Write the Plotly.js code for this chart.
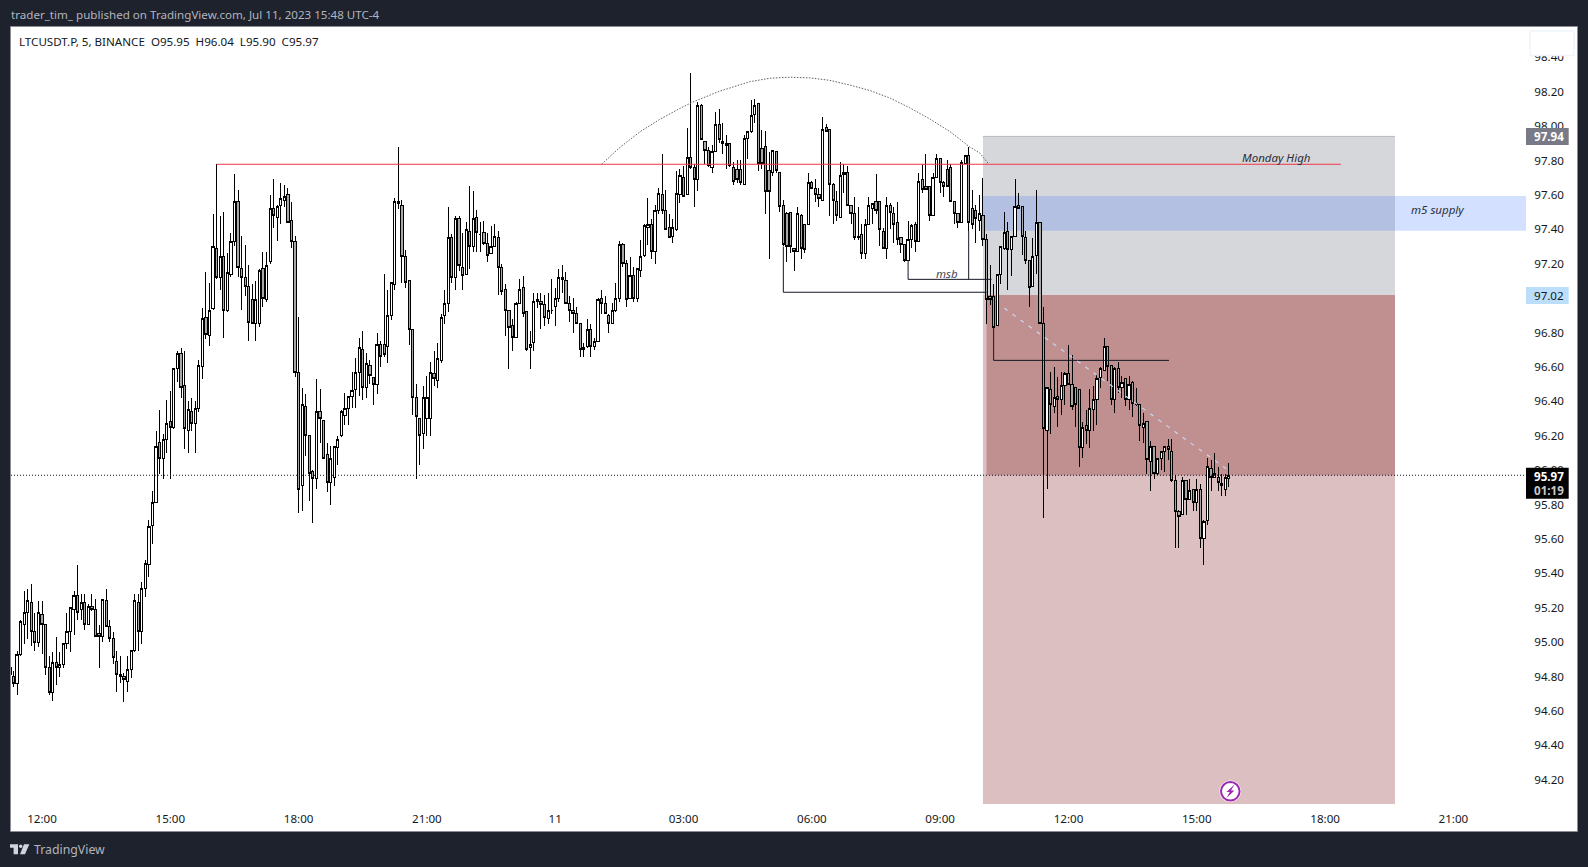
<!DOCTYPE html>
<html><head><meta charset="utf-8">
<script src="https://cdn.plot.ly/plotly-3.0.1.min.js"></script>
<style>html,body{margin:0;padding:0;background:#1e222d;overflow:hidden}#c{width:1588px;height:867px}
.boxlayer path{shape-rendering:crispEdges}</style>
</head><body><div id="c"></div>
<script>
const firstBar = Date.UTC(2023,6,10,11,15);
const barMinutes = 5;
const opens = [
94.85,94.80,94.76,94.93,95.10,95.17,95.23,95.06,95.00,95.16,
95.10,94.85,94.71,94.88,94.85,94.87,94.99,95.06,95.19,95.27,
95.19,95.23,95.10,95.21,95.19,95.05,95.03,95.24,95.09,95.02,
94.89,94.81,94.80,94.77,94.84,94.95,95.23,95.06,95.31,95.45,
95.68,95.81,96.16,96.07,96.18,96.28,96.25,96.59,96.68,96.49,
96.23,96.34,96.27,96.36,96.60,96.89,96.78,96.94,97.29,97.12,
97.24,96.93,97.14,97.33,97.56,97.17,97.12,97.07,96.99,96.85,
96.85,97.17,96.99,97.21,97.52,97.47,97.54,97.57,97.60,97.45,
97.33,96.57,95.91,96.37,96.20,95.99,95.95,96.34,96.29,96.09,
95.93,95.96,96.13,96.20,96.32,96.36,96.43,96.47,96.57,96.70,
96.48,96.61,96.54,96.50,96.73,96.73,96.72,96.90,97.08,97.56,
97.54,97.24,97.10,96.82,96.42,96.30,96.21,96.30,96.30,96.56,
96.52,96.64,96.90,96.97,97.35,97.12,97.46,97.18,97.14,97.39,
97.30,97.47,97.37,97.38,97.32,97.26,97.30,97.35,97.18,97.05,
96.93,96.84,96.77,96.97,97.06,96.92,96.71,96.74,96.98,96.98,
96.96,96.88,96.93,96.95,97.00,97.12,97.10,96.97,96.93,96.91,
96.85,96.70,96.72,96.82,96.72,96.75,97.00,96.97,96.90,96.85,
96.93,97.00,97.31,97.20,97.00,97.13,97.00,97.16,97.25,97.41,
97.43,97.27,97.51,97.60,97.51,97.41,97.36,97.40,97.60,97.70,
97.60,97.82,97.76,97.69,98.12,97.91,97.86,97.76,97.85,98.01,
97.91,97.89,97.90,97.76,97.75,97.75,97.66,97.93,97.97,98.07,
98.13,97.87,97.88,97.74,97.73,97.85,97.73,97.54,97.49,97.50,
97.29,97.27,97.48,97.43,97.43,97.67,97.64,97.60,97.57,97.99,
97.98,97.66,97.56,97.47,97.72,97.73,97.54,97.49,97.36,97.37,
97.26,97.43,97.52,97.56,97.56,97.39,97.29,97.54,97.49,97.44,
97.35,97.31,97.22,97.34,97.43,97.33,97.69,97.65,97.65,97.48,
97.70,97.81,97.67,97.75,97.76,97.56,97.49,97.44,97.78,97.83,
97.52,97.51,97.45,97.48,97.34,97.01,97.01,96.84,97.14,97.29,
97.39,97.28,97.36,97.54,97.53,97.35,97.22,97.07,97.25,97.44,
96.85,96.23,96.47,96.37,96.43,96.41,96.49,96.56,96.50,96.48,
96.47,96.13,96.26,96.23,96.35,96.41,96.54,96.58,96.72,96.61,
96.41,96.59,96.48,96.53,96.41,96.51,96.39,96.38,96.25,96.28,
96.05,96.14,95.98,96.07,96.11,96.14,96.11,95.94,95.76,95.74,
95.94,95.83,95.89,95.81,95.89,95.60,95.71,96.01,95.96,95.96,
95.92,95.89,95.95];
const highs = [
94.95,94.83,94.95,95.13,95.30,95.31,95.34,95.17,95.24,95.24,
95.10,94.92,94.94,95.03,94.94,94.99,95.17,95.20,95.30,95.45,
95.28,95.28,95.22,95.28,95.25,95.10,95.25,95.31,95.13,95.06,
94.95,94.92,94.82,94.92,94.95,95.28,95.28,95.35,95.48,95.71,
95.88,96.23,96.35,96.21,96.41,96.46,96.59,96.69,96.71,96.69,
96.40,96.42,96.40,96.64,96.94,97.15,97.09,97.49,97.78,97.48,
97.50,97.26,97.38,97.72,97.63,97.36,97.31,97.19,97.08,97.10,
97.17,97.27,97.27,97.60,97.69,97.54,97.67,97.66,97.64,97.56,
97.36,96.89,96.48,96.44,96.20,96.00,96.53,96.47,96.29,96.16,
96.14,96.14,96.20,96.35,96.45,96.43,96.57,96.65,96.77,96.81,
96.68,96.64,96.54,96.80,96.75,97.14,97.05,97.09,97.58,97.88,
97.57,97.28,97.10,96.82,96.50,96.30,96.49,96.55,96.63,96.69,
96.74,96.91,97.05,97.53,97.37,97.48,97.48,97.38,97.44,97.65,
97.62,97.51,97.44,97.45,97.38,97.42,97.43,97.39,97.20,97.08,
96.93,96.88,96.98,97.11,97.13,96.92,96.81,97.03,97.03,97.03,
97.02,97.03,97.11,97.06,97.17,97.19,97.15,97.01,97.00,96.95,
96.85,96.74,96.88,96.85,96.77,97.00,97.05,97.01,96.91,96.97,
97.09,97.33,97.32,97.22,97.24,97.18,97.17,97.34,97.43,97.58,
97.46,97.54,97.64,97.84,97.63,97.49,97.46,97.74,97.75,97.77,
97.99,98.31,97.78,98.14,98.13,97.91,97.88,97.89,98.08,98.10,
98.02,97.95,97.90,97.79,97.80,97.80,97.95,97.97,98.15,98.16,
98.13,97.98,97.97,97.85,97.86,97.85,97.73,97.57,97.50,97.50,
97.29,97.53,97.49,97.43,97.73,97.68,97.69,97.64,98.05,98.01,
97.98,97.67,97.62,97.79,97.78,97.77,97.54,97.59,97.53,97.43,
97.46,97.59,97.55,97.72,97.56,97.41,97.59,97.55,97.53,97.56,
97.35,97.31,97.45,97.43,97.44,97.73,97.78,97.84,97.65,97.73,
97.84,97.81,97.68,97.80,97.78,97.56,97.49,97.80,97.83,97.88,
97.63,97.54,97.60,97.70,97.37,97.19,97.08,97.14,97.30,97.50,
97.44,97.36,97.69,97.61,97.53,97.39,97.22,97.35,97.63,97.44,
96.95,96.48,96.57,96.60,96.54,96.57,96.57,96.73,96.67,96.48,
96.47,96.28,96.35,96.47,96.49,96.56,96.60,96.77,96.72,96.61,
96.60,96.63,96.55,96.53,96.55,96.52,96.48,96.38,96.33,96.28,
96.17,96.14,96.07,96.11,96.14,96.18,96.18,95.97,95.77,95.96,
95.94,95.95,95.89,95.95,95.92,95.71,96.07,96.06,96.10,96.02,
95.98,95.98,96.04];
const lows = [
94.70,94.74,94.69,94.92,94.99,95.02,94.98,94.95,94.97,94.93,
94.81,94.69,94.66,94.75,94.80,94.85,94.96,94.94,95.04,95.13,
95.13,95.07,95.10,95.18,95.03,94.85,95.00,95.09,95.00,94.87,
94.71,94.76,94.65,94.71,94.79,94.94,94.95,94.99,95.26,95.38,
95.57,95.81,95.98,95.95,96.10,95.95,96.24,96.51,96.42,96.12,
96.10,96.23,96.10,96.34,96.53,96.76,96.72,96.93,97.11,97.05,
96.77,96.92,97.12,97.30,97.12,96.93,97.01,96.75,96.85,96.75,
96.83,96.95,96.98,97.20,97.41,97.33,97.43,97.53,97.44,97.29,
96.54,95.75,95.76,96.08,95.82,95.69,95.89,96.16,96.07,95.87,
95.80,95.91,96.03,96.19,96.26,96.26,96.36,96.36,96.43,96.41,
96.42,96.50,96.38,96.44,96.60,96.66,96.62,96.87,97.05,97.52,
97.09,97.06,96.73,96.32,95.95,96.03,96.12,96.20,96.20,96.49,
96.48,96.62,96.85,96.92,97.09,97.05,97.16,97.05,97.14,97.17,
97.27,97.27,97.27,97.31,97.21,97.26,97.30,97.02,97.02,96.78,
96.59,96.69,96.77,96.97,96.89,96.69,96.59,96.69,96.94,96.82,
96.84,96.85,96.91,96.84,96.98,97.03,96.97,96.86,96.80,96.85,
96.66,96.66,96.71,96.66,96.70,96.75,96.91,96.91,96.80,96.85,
96.92,96.98,97.18,96.95,97.00,96.98,96.98,97.12,97.24,97.31,
97.23,97.20,97.49,97.49,97.40,97.35,97.32,97.39,97.55,97.59,
97.60,97.75,97.53,97.62,97.92,97.78,97.76,97.73,97.85,97.90,
97.84,97.75,97.76,97.66,97.67,97.66,97.66,97.81,97.96,98.02,
97.74,97.75,97.49,97.23,97.71,97.73,97.50,97.30,97.21,97.26,
97.16,97.27,97.23,97.26,97.43,97.64,97.56,97.53,97.57,97.97,
97.48,97.43,97.45,97.47,97.61,97.54,97.43,97.34,97.34,97.23,
97.23,97.43,97.43,97.49,97.30,97.29,97.23,97.40,97.32,97.31,
97.26,97.21,97.22,97.29,97.27,97.33,97.61,97.63,97.45,97.48,
97.70,97.61,97.59,97.65,97.56,97.43,97.41,97.44,97.78,97.39,
97.40,97.32,97.39,97.30,96.85,96.96,96.83,96.84,97.08,97.28,
97.05,97.13,97.36,97.52,97.25,97.20,96.95,97.07,97.14,96.85,
95.72,95.89,96.21,96.33,96.25,96.32,96.38,96.50,96.35,96.25,
96.02,96.07,96.15,96.13,96.23,96.26,96.48,96.58,96.52,96.38,
96.33,96.45,96.42,96.37,96.35,96.31,96.37,96.17,96.16,95.98,
95.88,95.95,95.97,96.00,95.99,96.06,95.93,95.55,95.55,95.74,
95.74,95.83,95.76,95.76,95.55,95.45,95.68,95.88,95.96,95.88,
95.85,95.85,95.90];
const closes = [
94.81,94.76,94.93,95.12,95.17,95.24,95.06,95.00,95.17,95.10,
94.85,94.71,94.88,94.85,94.87,94.99,95.06,95.20,95.27,95.17,
95.23,95.10,95.21,95.19,95.03,95.03,95.25,95.09,95.02,94.91,
94.81,94.80,94.78,94.84,94.95,95.24,95.06,95.31,95.46,95.67,
95.81,96.14,96.07,96.18,96.27,96.25,96.59,96.68,96.48,96.24,
96.35,96.27,96.36,96.61,96.88,96.79,96.93,97.30,97.12,97.24,
96.93,97.15,97.33,97.56,97.18,97.12,97.07,96.86,96.85,96.99,
97.16,97.00,97.19,97.52,97.48,97.53,97.58,97.59,97.44,97.33,
96.57,95.89,96.38,96.20,95.98,95.95,96.34,96.30,96.07,95.93,
96.07,96.14,96.18,96.34,96.36,96.43,96.46,96.57,96.71,96.48,
96.62,96.55,96.50,96.73,96.66,96.67,96.90,97.09,97.56,97.55,
97.24,97.09,96.82,96.42,96.31,96.20,96.42,96.42,96.57,96.53,
96.65,96.89,96.97,97.35,97.12,97.46,97.19,97.13,97.40,97.30,
97.46,97.38,97.37,97.32,97.25,97.30,97.36,97.18,97.04,96.93,
96.83,96.77,96.97,97.05,96.91,96.70,96.73,96.98,96.99,96.96,
96.89,96.93,96.93,97.00,97.12,97.11,96.97,96.93,96.91,96.85,
96.70,96.71,96.82,96.72,96.75,96.99,96.97,96.91,96.85,96.93,
97.00,97.31,97.20,96.99,97.13,97.00,97.17,97.24,97.42,97.43,
97.27,97.51,97.61,97.51,97.40,97.35,97.41,97.61,97.71,97.59,
97.82,97.76,97.69,98.12,97.92,97.86,97.77,97.85,98.01,97.92,
97.90,97.90,97.77,97.68,97.69,97.67,97.93,97.97,98.06,98.12,
97.78,97.78,97.62,97.62,97.86,97.74,97.53,97.31,97.30,97.30,
97.27,97.49,97.29,97.28,97.67,97.64,97.60,97.58,97.98,97.97,
97.66,97.57,97.48,97.71,97.73,97.54,97.49,97.35,97.35,97.26,
97.43,97.54,97.55,97.51,97.40,97.29,97.54,97.50,97.43,97.34,
97.31,97.22,97.34,97.42,97.33,97.68,97.63,97.63,97.48,97.70,
97.81,97.67,97.65,97.65,97.56,97.49,97.44,97.79,97.83,97.44,
97.43,97.46,97.49,97.34,96.99,96.99,96.83,97.14,97.30,97.38,
97.28,97.36,97.53,97.52,97.36,97.22,97.06,97.24,97.44,96.85,
96.24,96.48,96.38,96.42,96.41,96.49,96.56,96.50,96.37,96.38,
96.13,96.25,96.23,96.36,96.41,96.53,96.59,96.72,96.60,96.41,
96.59,96.48,96.51,96.41,96.50,96.39,96.38,96.26,96.27,96.06,
96.14,95.98,96.07,96.11,96.14,96.12,95.94,95.76,95.73,95.94,
95.83,95.88,95.81,95.89,95.60,95.70,96.02,95.96,95.98,95.93,
95.91,95.96,95.97];

const priceTicks = [94.2,94.4,94.6,94.8,95.0,95.2,95.4,95.6,95.8,96.0,96.2,96.4,96.6,96.8,97.0,97.2,97.4,97.6,97.8,98.0,98.2,98.4];
const timeTicks = ['2023-07-10 12:00','2023-07-10 15:00','2023-07-10 18:00','2023-07-10 21:00','2023-07-11 00:00','2023-07-11 03:00','2023-07-11 06:00','2023-07-11 09:00','2023-07-11 12:00','2023-07-11 15:00','2023-07-11 18:00','2023-07-11 21:00'];
const timeLabels = ['12:00','15:00','18:00','21:00','11','03:00','06:00','09:00','12:00','15:00','18:00','21:00'];

const arcTimes = ['01:05','01:31','01:59','02:27','02:55','03:12','03:50','04:05','04:33','05:01','05:29','05:58','06:25','06:53','07:22','07:50','08:17','08:46','09:14','09:42','09:56','10:08'].map(t=>'2023-07-11 '+t);
const arcPrices = [97.778,97.877,97.967,98.04,98.103,98.138,98.202,98.223,98.258,98.278,98.284,98.28,98.266,98.239,98.206,98.162,98.107,98.04,97.967,97.877,97.842,97.78];

const lastPrice = 95.97, stopPrice = 97.94, entryPrice = 97.02, mondayHigh = 97.778;
const supplyTop = 97.594, supplyBottom = 97.392, lowerEdge = 94.059;
const posStart = '2023-07-11 10:00', posStartInner = '2023-07-11 10:05', posEnd = '2023-07-11 19:38';

const times = opens.map((_,i)=>firstBar + i*barMinutes*60000);
const tl = Date.UTC(2023,6,10,11,16,31), tr = Date.UTC(2023,6,11,22,41,50);

// page-pixel helpers for the chrome around the plot
const W = 1515, H = 777, L = 11, B = 804;
const px = x => (x-L)/W, py = y => (B-y)/H;
function rectPx(x0,y0,x1,y1,fill,line){return {type:'rect',xref:'paper',yref:'paper',x0:px(x0),x1:px(x1),y0:py(y0),y1:py(y1),fillcolor:fill,line:line||{width:0}};}
function pathPx(pts,fill){return {type:'path',xref:'paper',yref:'paper',path:'M'+pts.map(p=>px(p[0])+','+py(p[1])).join('L')+'Z',fillcolor:fill,line:{width:0}};}
function textPx(x,y,text,o){o=o||{};return {xref:'paper',yref:'paper',x:px(x),y:py(y),text:text,showarrow:false,xanchor:o.xa||'left',yanchor:'middle',
  font:{family:o.family||'"Noto Sans", sans-serif',size:o.size||11.6,color:o.color||'#131722'}};}
function zone(x0,x1,y0,y1,fill){return {type:'rect',layer:'below',xref:'x',yref:'y',x0:x0,x1:x1,y0:y0,y1:y1,fillcolor:fill,line:{width:0}};}
function seg(x0,y0,x1,y1,color,extra){return Object.assign({type:'line',xref:'x',yref:'y',x0:x0,y0:y0,x1:x1,y1:y1,line:{color:color,width:1}},extra||{});}

const black='#131722';
const shapes = [
  Object.assign(rectPx(10.5,26.5,1577.5,831.5,'#ffffff',{color:'#8a8d96',width:1}),{layer:'below'}),
  zone(posStart,posEnd,entryPrice,lowerEdge,'#dcbfc1'),
  zone(posStartInner,posEnd,entryPrice,lastPrice,'#c08f90'),
  zone(posStart,posEnd,stopPrice,entryPrice,'#d6d7db'),
  zone(posStart,tr,supplyBottom,supplyTop,'rgba(41,98,255,0.2)'),
  seg(posStart,stopPrice,posEnd,stopPrice,'#b8b9bf',{layer:'below'}),
  seg('2023-07-10 16:05',mondayHigh,'2023-07-11 18:22',mondayHigh,'#f23645'),
  seg('2023-07-11 05:20',97.30,'2023-07-11 05:20',97.034,black),
  seg('2023-07-11 05:20',97.034,'2023-07-11 10:05',97.034,black),
  seg('2023-07-11 08:15',97.22,'2023-07-11 08:15',97.109,black),
  seg('2023-07-11 08:15',97.109,'2023-07-11 10:12',97.109,black),
  seg('2023-07-11 09:40',97.39,'2023-07-11 09:40',97.109,black),
  seg('2023-07-11 10:15',96.83,'2023-07-11 10:15',96.638,black),
  seg('2023-07-11 10:15',96.638,'2023-07-11 14:21',96.638,black),
  seg('2023-07-11 10:30',96.941,'2023-07-11 15:44',96.00,'#c9d6ee',{line:{color:'#c9d6ee',width:1.2,dash:'4px,6px'}}),
  {type:'line',xref:'paper',yref:'y',x0:0,x1:1,y0:lastPrice,y1:lastPrice,line:{color:'#131722',width:1,dash:'1px,2px'}},
  // cover over the top tick label
  rectPx(1530,31,1574,55.5,'#ffffff',{color:'#f0f3fa',width:1.5}),
  // price tags
  rectPx(1526,128,1568.7,145,'#787b86'),
  rectPx(1526,287,1568.7,304,'#bbdefb'),
  rectPx(1526,467.7,1568.7,498.7,'#000000'),
  // badge
  {type:'circle',xref:'paper',yref:'paper',x0:px(1219.5),x1:px(1241),y0:py(780.5),y1:py(802),fillcolor:'#ffffff',line:{width:0}},
  {type:'circle',xref:'paper',yref:'paper',x0:px(1221),x1:px(1239.6),y0:py(782),y1:py(800.6),fillcolor:'#ffffff',line:{color:'#9c27b0',width:2}},
  pathPx([[1234.5,784.5],[1226.5,792],[1229.8,792],[1226.5,798],[1234.5,790.5],[1231,790.5]],'#9c27b0'),
  // TradingView mark
  pathPx([[10,844.3],[18,844.3],[18,854.3],[13.6,854.3],[13.6,847.8],[10,847.8]],'#d1d4dc'),
  pathPx([[24,844.3],[29.3,844.3],[25,854.3],[20,854.3]],'#d1d4dc'),
  {type:'circle',xref:'paper',yref:'paper',x0:px(19),x1:px(22.4),y0:py(844.5),y1:py(847.9),fillcolor:'#d1d4dc',line:{width:0}}
];

const annotations = [
  textPx(8.5,14.5,'trader_tim_ published on TradingView.com, Jul 11, 2023 15:48 UTC-4',{color:'#b2b5be'}),
  textPx(16.5,41.5,'LTCUSDT.P, 5, BINANCE &nbsp;O95.95 &nbsp;H96.04 &nbsp;L95.90 &nbsp;C95.97',{color:'#131722'}),
  textPx(32,849.5,'TradingView',{color:'#b2b5be',size:12.3}),
  textPx(1549,136.5,'<b>97.94</b>',{xa:'center',color:'#ffffff'}),
  textPx(1549,295.5,'97.02',{xa:'center',color:'#131722'}),
  textPx(1549,476,'<b>95.97</b>',{xa:'center',color:'#ffffff'}),
  textPx(1549,490.5,'<b>01:19</b>',{xa:'center',color:'#c8c8c8'}),
  textPx(1276,157,'<i>Monday High</i>',{xa:'center',color:'#2a2e39',size:11.5}),
  textPx(1437,210,'<i>m5 supply</i>',{xa:'center',color:'#2a2e39',size:11.5}),
  textPx(946.7,273,'<i>msb</i>',{xa:'center',color:'#434651',size:11.5})
];

const data = [
  {type:'scatter',mode:'lines',x:arcTimes,y:arcPrices,line:{color:'#5d606b',width:1,dash:'1.5px,1.5px'},hoverinfo:'skip',showlegend:false},
  {type:'candlestick',x:times,open:opens,high:highs,low:lows,close:closes,whiskerwidth:0,hoverinfo:'skip',showlegend:false,
   increasing:{line:{color:'#000000',width:1},fillcolor:'#ffffff'},
   decreasing:{line:{color:'#000000',width:1},fillcolor:'#a8a8a8'}}
];

const layout = {
  width:1588,height:867,autosize:false,
  paper_bgcolor:'#1e222d',plot_bgcolor:'rgba(0,0,0,0)',
  margin:{l:11,r:62,t:27,b:63,pad:0},
  showlegend:false,dragmode:false,
  boxgap:0.38,boxgroupgap:0,
  font:{family:'"Noto Sans", sans-serif',size:11.6,color:'#131722'},
  xaxis:{type:'date',range:[tl,tr],rangeslider:{visible:false},showgrid:false,zeroline:false,showline:false,
    tickmode:'array',tickvals:timeTicks,ticktext:timeLabels,ticks:'outside',ticklen:4,tickcolor:'rgba(0,0,0,0)',
    tickfont:{size:11.6,color:'#131722'},fixedrange:true},
  yaxis:{side:'right',range:[94.059,98.576],showgrid:false,zeroline:false,showline:false,
    tickmode:'array',tickvals:priceTicks,ticktext:priceTicks.map(v=>v.toFixed(2)),ticks:'outside',ticklen:5,tickcolor:'rgba(0,0,0,0)',
    tickfont:{size:11.6,color:'#131722'},fixedrange:true},
  shapes:shapes,annotations:annotations
};
Plotly.newPlot('c',data,layout,{displayModeBar:false,staticPlot:true});
</script></body></html>
